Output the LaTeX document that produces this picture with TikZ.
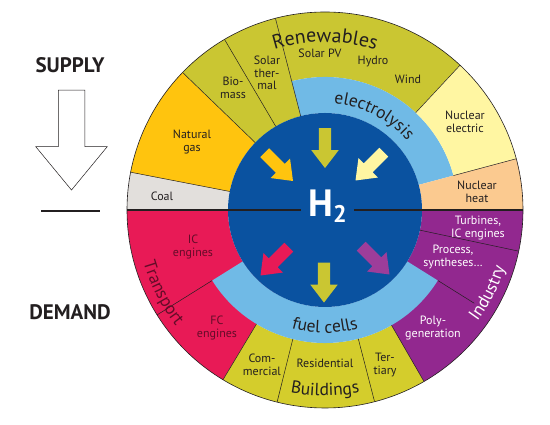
\documentclass[tikz,border=0pt]{standalone}
\usepackage{fontspec}
\setmainfont{PT Sans}
\usetikzlibrary{shapes.arrows,decorations.text}

\definecolor{coalcol}{RGB}{226,223,220}
\definecolor{gascol}{RGB}{255,196,14}
\definecolor{renewcol}{RGB}{202,198,50}
\definecolor{nuclecol}{RGB}{255,246,162}
\definecolor{nuchcol}{RGB}{251,202,144}
\definecolor{transcol}{RGB}{232,26,86}
\definecolor{buildcol}{RGB}{212,205,44}
\definecolor{induscol}{RGB}{146,40,143}
\definecolor{h2blue}{RGB}{10,82,160}
\definecolor{ringblue}{RGB}{112,186,230}
\definecolor{inkcol}{RGB}{35,31,32}
\definecolor{transink}{RGB}{100,12,40}

\newcommand{\ringseg}[5]{%
  \fill[#1] (#2:#4pt) arc[start angle=#2, end angle=#3, radius=#4pt]
    -- (#3:#5pt) arc[start angle=#3, end angle=#2, radius=#5pt] -- cycle;}
\newcommand{\sepline}[3]{\draw[sep] (#1:#2pt) -- (#1:#3pt);}
\newcommand{\lblfont}{\fontsize{12}{12.5}\selectfont}
\newcommand{\arcfont}{\fontsize{17.5}{17.5}\selectfont}
\newcommand{\renfont}{\fontsize{20}{20}\selectfont}

\tikzset{
    lbl/.style={align=center, font=\lblfont, text=inkcol, inner sep=0pt},
    sep/.style={draw=inkcol, line width=0.5pt},
    flow/.style={single arrow, minimum height=40pt, minimum width=27pt,
        inner xsep=0pt, inner ysep=6pt,
        single arrow head extend=7.5pt, single arrow tip angle=75},
    arctext/.style={decorate, decoration={text along path, text align=center, text color=#1}},
    big/.style={font=\fontsize{21}{21}\selectfont\bfseries, text=inkcol}
}

\begin{document}
\begin{tikzpicture}[x=1pt,y=1pt]
\useasboundingbox (0,0) rectangle (550,425);

% supply / demand
\node[big] (supply) at (70,360) {SUPPLY};
\node[single arrow, draw=inkcol, fill=white, rotate=-90, line width=0.5pt,
    minimum height=100pt, minimum width=71pt, inner xsep=0pt, inner ysep=13pt,
    single arrow head extend=22.5pt, single arrow tip angle=79] (supplyarrow) at (71.5,293) {};
\draw[line width=2.5pt, inkcol] (41,214) -- (100,214);
\node[big] (demand) at (70,113) {DEMAND};

\begin{scope}[shift={(325,215)}]
    % supply sectors
    \ringseg{coalcol}{169}{180}{97}{198}
    \ringseg{gascol}{136}{169}{97}{198}
    \ringseg{renewcol}{104.5}{136}{97}{198}
    \ringseg{renewcol}{47}{104.5}{133}{198}
    \ringseg{ringblue}{15}{104.5}{97}{133}
    \ringseg{nuclecol}{15}{47}{133}{198}
    \ringseg{nuchcol}{0}{15}{97}{198}
    % demand sectors
    \ringseg{transcol}{180}{239}{97}{198}
    \ringseg{buildcol}{239}{300}{133}{198}
    \ringseg{induscol}{300}{360}{97}{198}
    \ringseg{ringblue}{212}{328}{97}{133}
    \fill[h2blue] (0,0) circle[radius=97pt];

    \sepline{169}{97}{198}
    \sepline{136}{97}{198}
    \sepline{120.5}{97}{198}
    \sepline{104.5}{97}{198}
    \sepline{47}{133}{198}
    \sepline{15}{133}{198}
    \sepline{212}{133}{198}
    \sepline{239}{133}{198}
    \sepline{256}{133}{198}
    \sepline{284.5}{133}{198}
    \sepline{300}{133}{198}
    \sepline{328}{133}{176}
    \sepline{348}{97}{198}
    \draw[inkcol, line width=0.6pt] (0,0) circle[radius=198pt];
    \draw[inkcol, line width=2.2pt] (180:198pt) -- (0:198pt);

    % arc titles
    \path[arctext=inkcol, decoration={text={|\renfont|Renewables}}]
        (125:168pt) arc[start angle=125, end angle=55, radius=168pt];
    \path[arctext=inkcol, decoration={text={|\arcfont|electrolysis}}]
        (102.5:107pt) arc[start angle=102.5, end angle=22.5, radius=107pt];
    \path[arctext=inkcol, decoration={text={|\arcfont|fuel cells}}]
        (230:123pt) arc[start angle=230, end angle=310, radius=123pt];
    \path[arctext=inkcol, decoration={text={|\arcfont|Buildings}}]
        (240:186pt) arc[start angle=240, end angle=300, radius=186pt];
    \path[arctext=transink, decoration={text={|\arcfont|Transport}}]
        (180:189pt) arc[start angle=180, end angle=234, radius=189pt];
    \path[arctext=white, decoration={text={|\arcfont|Industry}}]
        (303:189pt) arc[start angle=303, end angle=363, radius=189pt];

    % supply labels
    \node[lbl] (coal) at (-163,14) {Coal};
    \node[lbl] (natgas) at (-133,68) {Natural\\gas};
    \node[lbl] (biomass) at (-92,122) {Bio-\\mass};
    \node[lbl] (solth) at (-58,137) {Solar\\ther-\\mal};
    \node[lbl] (solpv) at (-5,157) {Solar PV};
    \node[lbl] (hydro) at (48,148) {Hydro};
    \node[lbl] (wind) at (83,131) {Wind};
    \node[lbl] (nucel) at (140,88) {Nuclear\\electric};
    \node[lbl] (nucheat) at (152,18) {Nuclear\\heat};
    % demand labels
    \node[lbl, text=white] (turbines) at (153,-18) {Turbines,\\IC engines};
    \node[lbl, text=white] (process) at (128,-47) {Process,\\syntheses\dots};
    \node[lbl, text=white] (polygen) at (108,-118) {Poly-\\generation};
    \node[lbl] (tertiary) at (60,-155) {Ter-\\tiary};
    \node[lbl] (resid) at (0,-153) {Residential};
    \node[lbl] (commerc) at (-63,-155) {Com-\\mercial};
    \node[lbl, text=transink] (fceng) at (-108,-118) {FC\\engines};
    \node[lbl, text=transink] (iceng) at (-132,-37) {IC\\engines};

    % flows into and out of hydrogen
    \node[flow, fill=gascol, rotate=-45] (gasflow) at (-49,46) {};
    \node[flow, fill=renewcol, rotate=-90] (renflow) at (0,66) {};
    \node[flow, fill=nuclecol, rotate=-135] (nucflow) at (47.5,46.5) {};
    \node[flow, fill=transcol, rotate=-135] (transflow) at (-47.5,-48.5) {};
    \node[flow, fill=renewcol, rotate=-90] (buildflow) at (-1,-68.5) {};
    \node[flow, fill=induscol!90!white, rotate=-45] (indusflow) at (47.5,-47.5) {};

    \node[fill=h2blue, text=white, inner xsep=7pt, inner ysep=1pt,
        font=\fontsize{38}{38}\selectfont\bfseries] (h2) at (2.5,3.5)
        {H\raisebox{-6pt}{\fontsize{24}{24}\selectfont 2}};
\end{scope}
\end{tikzpicture}
\end{document}
